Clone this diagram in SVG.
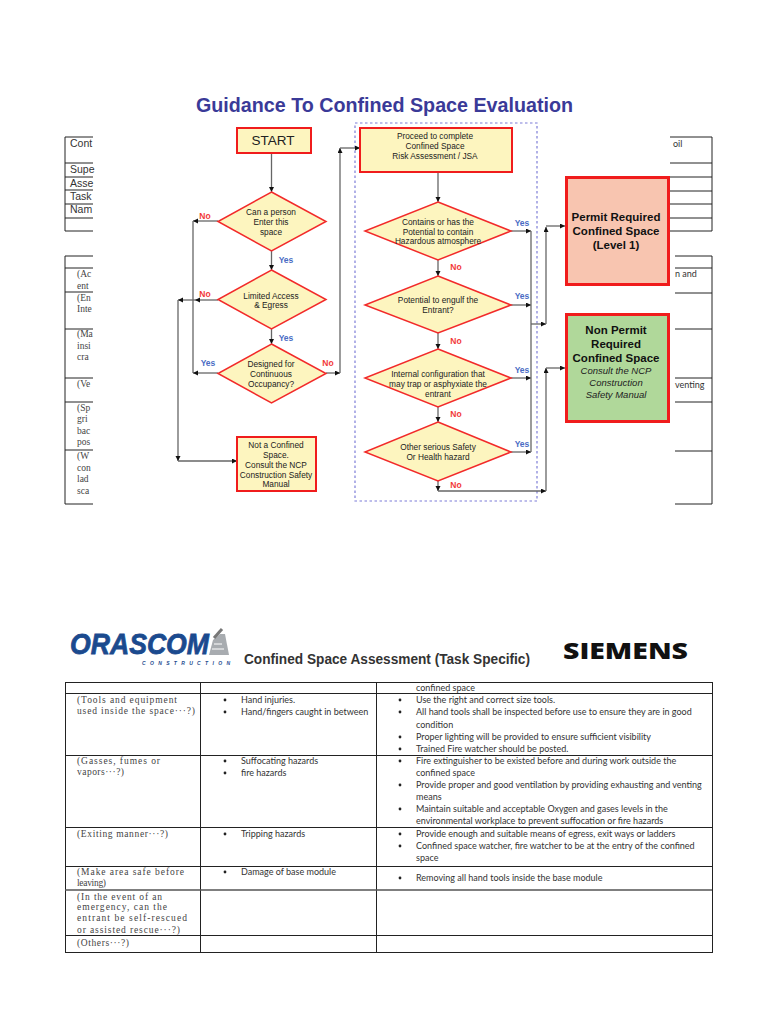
<svg xmlns="http://www.w3.org/2000/svg" width="768" height="1024" viewBox="0 0 768 1024">
<style>
.bg{fill:#fff}
.t{stroke:#222;stroke-width:1;fill:none}
.ta{font:10.5px "Liberation Sans",Arial,sans-serif;fill:#333}
.tb{font:9.5px "Liberation Serif",serif;fill:#444}
.tc{font:9px Lato,"Liberation Sans",sans-serif;fill:#333}
.n{font:8.3px "Liberation Sans",Arial,sans-serif;fill:#222;text-anchor:middle}
.d{fill:#fdf5bf;stroke:#f22a2a;stroke-width:1.5}
.b{fill:#fdf5bf;stroke:#f01c1c;stroke-width:2}
.c{fill:none;stroke:#666;stroke-width:1.3}
.y{font:bold 8.5px "Liberation Sans",Arial,sans-serif;fill:#4a6cc4;text-anchor:middle}
.o{font:bold 8.5px "Liberation Sans",Arial,sans-serif;fill:#f23a3a;text-anchor:middle}
.big{font:bold 11.5px "Liberation Sans",Arial,sans-serif;fill:#111;text-anchor:middle}
.it{font:italic 9.5px "Liberation Sans",Arial,sans-serif;fill:#222;text-anchor:middle}
</style>
<defs>
<marker id="a" markerUnits="userSpaceOnUse" markerWidth="6" markerHeight="6" refX="5" refY="2.5" orient="auto"><path d="M0 0L5 2.5L0 5z" fill="#111"/></marker>
</defs>
<rect class="bg" width="768" height="1024"/>

<g id="background-table-upper">
<path class="t" d="M93 137H65V231H93M65 163H93M65 177H93M65 190H93M65 204H93M65 218H93"/>
<path class="t" d="M670 137H712V231H670M670 163H712M670 177H712M670 191H712M670 204H712M670 218H712"/>
<text class="ta" x="70" y="147">Cont</text><text class="ta" x="70" y="173">Supe</text><text class="ta" x="70" y="187">Asse</text><text class="ta" x="70" y="200">Task</text><text class="ta" x="70" y="213">Nam</text>
<text class="tc" x="673" y="147">oil</text>
</g>
<g id="background-table-lower">
<path class="t" d="M93 256H65V504H93M65 268H93M65 292H93M65 329H93M65 378H93M65 402H93M65 450H93"/>
<path class="t" d="M675 256H712V504H675M675 268H712M675 293H712M675 329H712M675 378H712M675 402H712M675 451H712"/>
<g class="tb">
<text x="77" y="277">(Ac</text><text x="77" y="289">ent</text><text x="77" y="301">(En</text><text x="77" y="312">Inte</text><text x="77" y="337">(Ma</text><text x="77" y="349">insi</text><text x="77" y="360">cra</text><text x="77" y="387">(Ve</text><text x="77" y="411">(Sp</text><text x="77" y="422">gri</text><text x="77" y="434">bac</text><text x="77" y="445">pos</text><text x="77" y="459">(W</text><text x="77" y="471">con</text><text x="77" y="482">lad</text><text x="77" y="494">sca</text>
</g>
<text class="tc" x="675" y="277">n and</text><text class="tc" x="675" y="388">venting</text>
</g>

<text id="title" x="196" y="112" font-family="Liberation Sans, Arial, sans-serif" font-weight="bold" font-size="19.5" fill="#3a3a98" textLength="377" lengthAdjust="spacingAndGlyphs">Guidance To Confined Space Evaluation</text>

<rect id="scope" x="355" y="123" width="182" height="378" fill="none" stroke="#7d7dd8" stroke-width="1.2" stroke-dasharray="2.5 2.5"/>

<g id="connectors">
<path class="c" marker-end="url(#a)" d="M271.5 153V192"/>
<path class="c" marker-end="url(#a)" d="M271.5 251V270"/>
<path class="c" marker-end="url(#a)" d="M271.5 329V344"/>
<path class="c" marker-end="url(#a)" d="M218 221H193"/>
<path class="c" d="M193 221V373"/>
<path class="c" marker-end="url(#a)" d="M218 300H195"/>
<path class="c" marker-end="url(#a)" d="M195 300H178"/>
<path class="c" marker-end="url(#a)" d="M178 300V461"/>
<path class="c" marker-end="url(#a)" d="M178 461H237"/>
<path class="c" marker-end="url(#a)" d="M218 373H193"/>
<path class="c" marker-end="url(#a)" d="M326 373H340"/>
<path class="c" marker-end="url(#a)" d="M340 373V148"/>
<path class="c" marker-end="url(#a)" d="M340 148H360"/>
<path class="c" marker-end="url(#a)" d="M438 172V202"/>
<path class="c" marker-end="url(#a)" d="M438 260V276"/>
<path class="c" marker-end="url(#a)" d="M438 333V349"/>
<path class="c" marker-end="url(#a)" d="M438 407V422"/>
<path class="c" marker-end="url(#a)" d="M511 231H531"/>
<path class="c" marker-end="url(#a)" d="M511 305H531"/>
<path class="c" marker-end="url(#a)" d="M511 378H531"/>
<path class="c" marker-end="url(#a)" d="M511 452H531"/>
<path class="c" d="M531 231V452"/>
<path class="c" marker-end="url(#a)" d="M531 324H546"/>
<path class="c" marker-end="url(#a)" d="M546 324V227"/>
<path class="c" marker-end="url(#a)" d="M546 226H565"/>
<path class="c" marker-end="url(#a)" d="M438 481V491"/>
<path class="c" marker-end="url(#a)" d="M438 491H546"/>
<path class="c" marker-end="url(#a)" d="M546 491V368"/>
<path class="c" marker-end="url(#a)" d="M546 368H565"/>
</g>
<g id="edge-labels">
<text class="o" x="205" y="219">No</text><text class="y" x="286" y="263">Yes</text><text class="o" x="205" y="297">No</text><text class="y" x="286" y="341">Yes</text><text class="y" x="208" y="366">Yes</text><text class="o" x="328" y="366">No</text>
<text class="y" x="522" y="226">Yes</text><text class="o" x="456" y="270">No</text><text class="y" x="522" y="299">Yes</text><text class="o" x="456" y="344">No</text><text class="y" x="522" y="373">Yes</text><text class="o" x="456" y="417">No</text><text class="y" x="522" y="447">Yes</text><text class="o" x="456" y="488">No</text>
</g>

<g id="start"><rect class="b" x="237" y="128" width="74" height="25"/><text x="273" y="145" font-family="Liberation Sans, Arial, sans-serif" font-size="13.5" text-anchor="middle" fill="#222">START</text></g>
<g id="q-enter"><polygon class="d" points="271.5,192 326,221.5 271.5,251 218,221.5"/><text class="n" x="271" y="215">Can a person</text><text class="n" x="271" y="225">Enter this</text><text class="n" x="271" y="235">space</text></g>
<g id="q-access"><polygon class="d" points="271.5,270 326,299.5 271.5,329 218,299.5"/><text class="n" x="271" y="299">Limited Access</text><text class="n" x="271" y="308">&amp; Egress</text></g>
<g id="q-occupancy"><polygon class="d" points="271.5,344 326,373.5 271.5,403 218,373.5"/><text class="n" x="271" y="367">Designed for</text><text class="n" x="271" y="377">Continuous</text><text class="n" x="271" y="387">Occupancy?</text></g>
<g id="not-confined"><rect class="b" x="237" y="437" width="79" height="54"/><text class="n" x="276" y="448">Not a Confined</text><text class="n" x="276" y="458">Space.</text><text class="n" x="276" y="468">Consult the NCP</text><text class="n" x="276" y="478">Construction Safety</text><text class="n" x="276" y="487">Manual</text></g>
<g id="proceed"><rect class="b" x="360" y="128" width="152" height="44"/><text class="n" x="435" y="139">Proceed to complete</text><text class="n" x="435" y="149">Confined Space</text><text class="n" x="435" y="159">Risk Assessment / JSA</text></g>
<g id="q-atmosphere"><polygon class="d" points="438,202 511,231 438,260 365,231"/><text class="n" x="438" y="225">Contains or has the</text><text class="n" x="438" y="235">Potential to contain</text><text class="n" x="438" y="244">Hazardous atmosphere</text></g>
<g id="q-engulf"><polygon class="d" points="438,276 511,305 438,333 365,305"/><text class="n" x="438" y="303">Potential to engulf the</text><text class="n" x="438" y="313">Entrant?</text></g>
<g id="q-config"><polygon class="d" points="438,349 511,378 438,407 365,378"/><text class="n" x="438" y="377">Internal configuration that</text><text class="n" x="438" y="387">may trap or asphyxiate the</text><text class="n" x="438" y="397">entrant</text></g>
<g id="q-other"><polygon class="d" points="438,422 511,452 438,481 365,452"/><text class="n" x="438" y="450">Other serious Safety</text><text class="n" x="438" y="460">Or Health hazard</text></g>
<g id="permit"><rect x="566.5" y="177.5" width="102" height="107" fill="#f8c5b0" stroke="#f01c1c" stroke-width="3"/><text class="big" x="616" y="221">Permit Required</text><text class="big" x="616" y="235">Confined Space</text><text class="big" x="616" y="249">(Level 1)</text></g>
<g id="non-permit"><rect x="566.5" y="314.5" width="102" height="107" fill="#b0d89a" stroke="#f01c1c" stroke-width="3"/><text class="big" x="616" y="334">Non Permit</text><text class="big" x="616" y="348">Required</text><text class="big" x="616" y="362">Confined Space</text><text class="it" x="616" y="374">Consult the NCP</text><text class="it" x="616" y="386">Construction</text><text class="it" x="616" y="398">Safety Manual</text></g>

<g id="logos">
<text x="70" y="654" font-family="Liberation Sans, Arial, sans-serif" font-weight="bold" font-style="italic" font-size="30" fill="#1b4a8e" stroke="#1b4a8e" stroke-width=".8" textLength="139" lengthAdjust="spacingAndGlyphs">ORASCOM</text>
<polygon points="209,655 213,640 220,634 225,634 229,655" fill="#a8acb0"/>
<path d="M214 638L222 629" stroke="#777" stroke-width="3"/>
<path d="M214 644H222M212 649H224" stroke="#fff" stroke-width="1"/>
<text x="142" y="665" font-family="Liberation Sans, Arial, sans-serif" font-weight="bold" font-style="italic" font-size="5" fill="#1b4a8e" textLength="88">CONSTRUCTION</text>
<text x="244" y="664" font-family="Liberation Sans, Arial, sans-serif" font-weight="bold" font-size="14" fill="#333" textLength="286" lengthAdjust="spacingAndGlyphs">Confined Space Assessment (Task Specific)</text>
<text x="563" y="659" font-family="Open Sans, Liberation Sans, sans-serif" font-weight="800" font-size="23" fill="#111" textLength="125" lengthAdjust="spacingAndGlyphs">SIEMENS</text>
</g>

<g id="assessment-table">
<rect class="t" x="65.5" y="682.5" width="647" height="270"/>
<path class="t" d="M65 693.5H712M65 755.5H712M65 827.5H712M65 866.5H712M65 935.5H712M200.5 682V952M376.5 682V952"/>
<path d="M65 890H712" stroke="#555" stroke-width="1.6"/>
<g class="tb">
<text x="77" y="703" textLength="100">(Tools and equipment</text><text x="77" y="714" textLength="118">used inside the space···?)</text>
<text x="77" y="764" textLength="83">(Gasses, fumes or</text><text x="77" y="775" textLength="47">vapors···?)</text>
<text x="77" y="837" textLength="91">(Exiting manner···?)</text>
<text x="77" y="875" textLength="107">(Make area safe before</text><text x="77" y="886" textLength="29">leaving)</text>
<text x="77" y="900" textLength="85">(In the event of an</text><text x="77" y="910" textLength="90">emergency, can the</text><text x="77" y="921" textLength="110">entrant be self-rescued</text><text x="77" y="933" textLength="103">or assisted rescue···?)</text>
<text x="77" y="946" textLength="52">(Others···?)</text>
</g>
<g class="tc">
<text x="241" y="703">Hand injuries.</text><text x="241" y="715">Hand/fingers caught in between</text>
<text x="241" y="764">Suffocating hazards</text><text x="241" y="776">fire hazards</text>
<text x="241" y="837">Tripping hazards</text><text x="241" y="875">Damage of base module</text>
<text x="416" y="691">confined space</text>
<text x="416" y="703">Use the right and correct  size tools.</text>
<text x="416" y="715">All hand tools shall be inspected before use to ensure they are in good</text>
<text x="416" y="728">condition</text>
<text x="416" y="740">Proper lighting will be provided to ensure sufficient visibility</text>
<text x="416" y="752">Trained Fire watcher should be posted.</text>
<text x="416" y="764">Fire extinguisher to be existed before and during work outside the</text>
<text x="416" y="776">confined space</text>
<text x="416" y="788">Provide proper and good ventilation by providing exhausting and venting</text>
<text x="416" y="800">means</text>
<text x="416" y="812">Maintain suitable and acceptable Oxygen and gases levels in the</text>
<text x="416" y="824">environmental workplace to prevent suffocation or fire hazards</text>
<text x="416" y="837">Provide enough and suitable means of egress, exit ways or ladders</text>
<text x="416" y="849">Confined space watcher, fire watcher to be at the entry of the confined</text>
<text x="416" y="861">space</text>
<text x="416" y="881">Removing all hand tools inside the base module</text>
</g>
<g fill="#222">
<circle cx="225" cy="700" r="1.4"/><circle cx="225" cy="712" r="1.4"/><circle cx="225" cy="761" r="1.4"/><circle cx="225" cy="773" r="1.4"/><circle cx="225" cy="834" r="1.4"/><circle cx="225" cy="872" r="1.4"/>
<circle cx="400" cy="700" r="1.4"/><circle cx="400" cy="712" r="1.4"/><circle cx="400" cy="737" r="1.4"/><circle cx="400" cy="749" r="1.4"/><circle cx="400" cy="761" r="1.4"/><circle cx="400" cy="785" r="1.4"/><circle cx="400" cy="809" r="1.4"/><circle cx="400" cy="834" r="1.4"/><circle cx="400" cy="846" r="1.4"/><circle cx="400" cy="878" r="1.4"/>
</g>
</g>
</svg>
